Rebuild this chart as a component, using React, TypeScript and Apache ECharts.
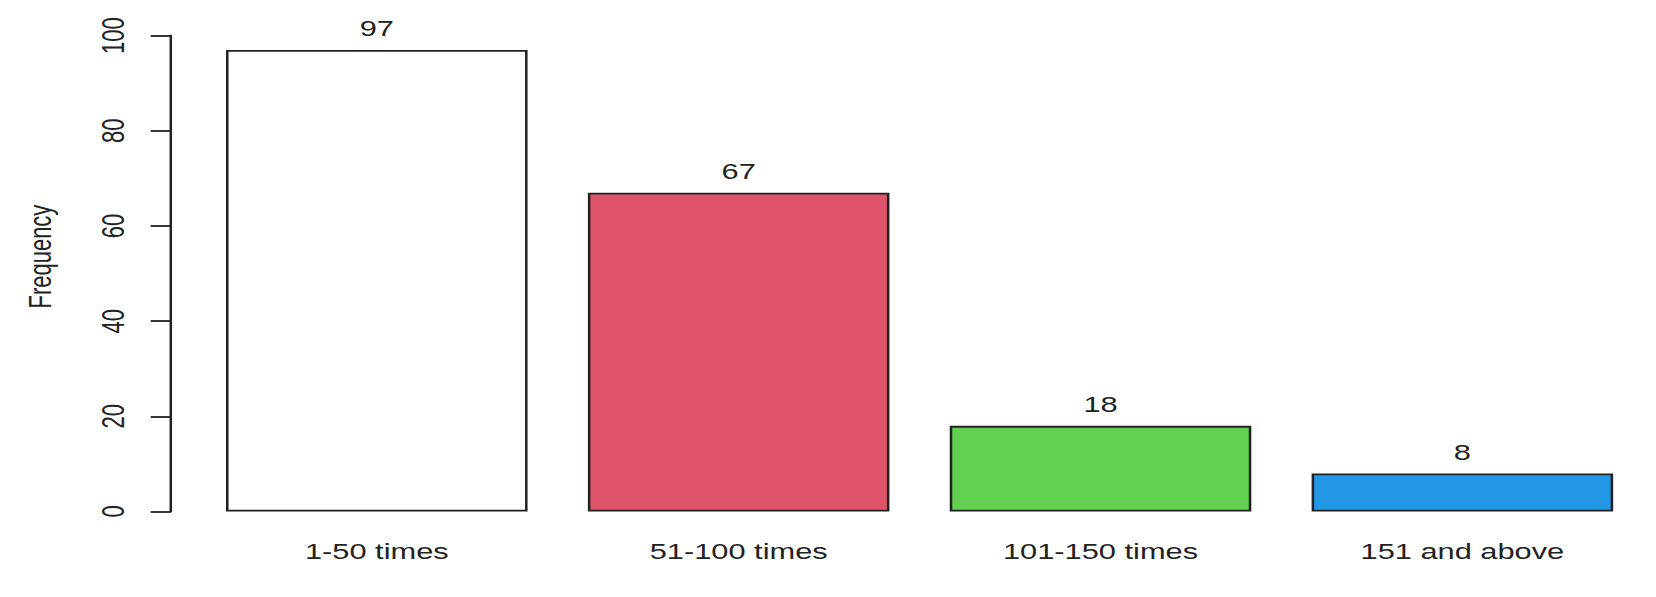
import { useEffect, useRef } from "react";
import * as echarts from "echarts";

const CATEGORIES = ["1-50 times", "51-100 times", "101-150 times", "151 and above"];
const FREQUENCIES = [97, 67, 18, 8];
const BAR_COLORS = ["#ffffff", "#DF536B", "#61D04F", "#2297E6"];
const Y_NAME = "Frequency";

// the reference is an R plot that was stretched sideways, so we draw narrower and stretch it back
const STRETCH = 1.4;
const FULL_W = 1656;
const FULL_H = 597;
const W = FULL_W / STRETCH;

const FONT = "'Liberation Sans', Arial, sans-serif";
const INK = "#222222";

export default function App() {
  const chartEl = useRef<HTMLDivElement | null>(null);

  useEffect(() => {
    if (!chartEl.current) return;
    const chart = echarts.init(chartEl.current, undefined, { renderer: "svg" });

    chart.setOption({
      animation: false,
      backgroundColor: "#ffffff",
      textStyle: { fontFamily: FONT, color: INK },
      grid: { left: 139.9, right: 9.2, top: 35.7, bottom: 85.5 },
      xAxis: {
        type: "category",
        data: CATEGORIES,
        axisLine: { show: false },
        axisTick: { show: false },
        axisLabel: { fontSize: 22, color: INK, fontFamily: FONT, margin: 29 },
      },
      yAxis: {
        type: "value",
        min: 0,
        max: 100,
        interval: 20,
        offset: 18,
        name: Y_NAME,
        nameLocation: "middle",
        nameRotate: 90,
        nameGap: 82,
        nameTextStyle: {
          fontSize: 22,
          color: INK,
          fontFamily: FONT,
          padding: [0, 0, 0, 34],
        },
        axisLine: { show: true, lineStyle: { color: INK, width: 1.8 } },
        axisTick: { show: true, length: 14.3, lineStyle: { color: INK, width: 1.8 } },
        axisLabel: { rotate: 90, fontSize: 22, color: INK, fontFamily: FONT, margin: 30 },
        splitLine: { show: false },
      },
      series: [
        {
          type: "bar",
          barCategoryGap: "16.67%",
          data: FREQUENCIES.map((v, i) => ({
            value: v,
            itemStyle: { color: BAR_COLORS[i] },
          })),
          itemStyle: { borderColor: INK, borderWidth: 1.8 },
          label: {
            show: true,
            position: "top",
            distance: 10,
            fontSize: 22,
            color: INK,
            fontFamily: FONT,
          },
        },
      ],
    });

    return () => chart.dispose();
  }, []);

  return (
    <div
      style={{
        position: "fixed",
        left: 0,
        top: 0,
        width: FULL_W,
        height: FULL_H,
        overflow: "hidden",
        background: "#ffffff",
      }}
    >
      <div
        ref={chartEl}
        style={{
          width: W,
          height: FULL_H,
          transform: `scaleX(${STRETCH})`,
          transformOrigin: "0 0",
        }}
      />
    </div>
  );
}
